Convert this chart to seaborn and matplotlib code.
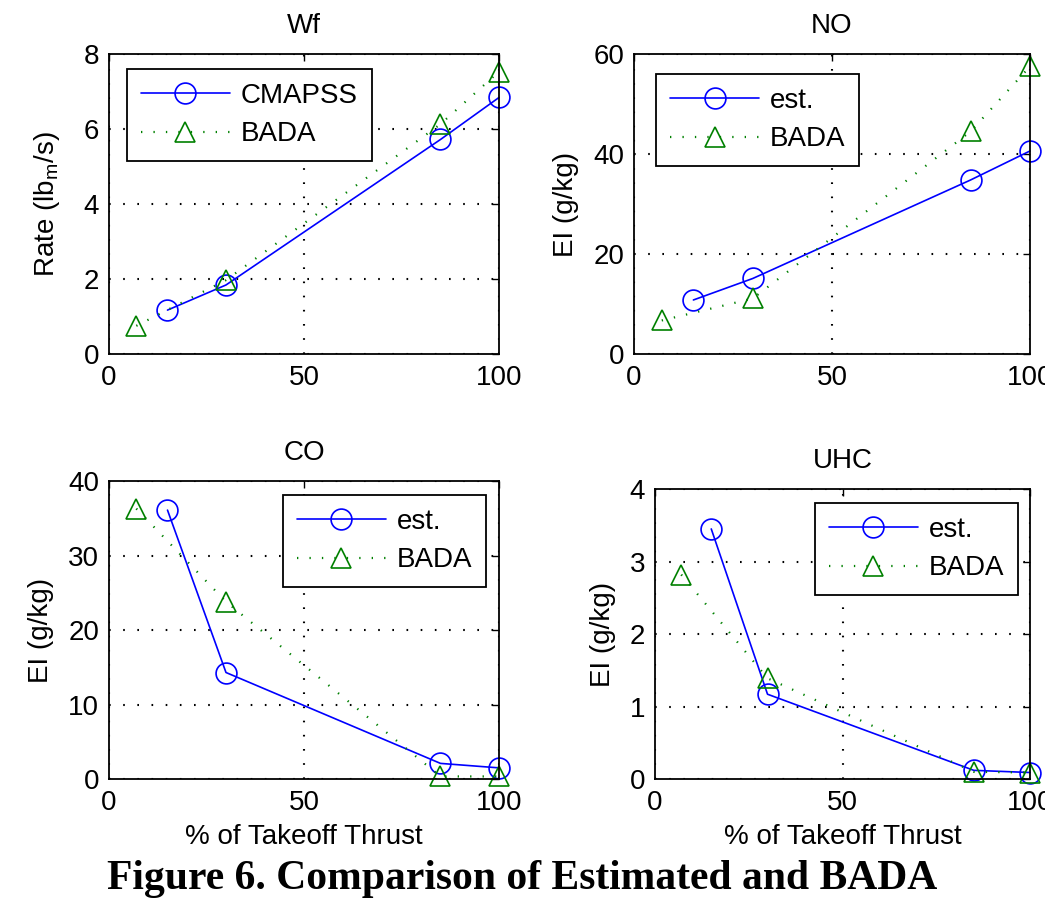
import matplotlib
matplotlib.use("Agg")
import matplotlib.pyplot as plt
import seaborn as sns

# valores
thrust_est = [15, 30, 85, 100]
thrust_bada = [7, 30, 85, 100]

wf_cmapss = [1.17, 1.84, 5.72, 6.84]
wf_bada = [0.75, 1.97, 6.13, 7.53]

no_est = [10.8, 15.1, 34.8, 40.6]
no_bada = [6.7, 11.1, 44.5, 57.5]

co_est = [36.1, 14.3, 2.1, 1.5]
co_bada = [36.3, 23.8, 0.35, 0.35]

uhc_est = [3.45, 1.17, 0.12, 0.09]
uhc_bada = [2.82, 1.39, 0.10, 0.09]

titles = ["Wf", "NO", "CO", "UHC"]
est_labels = ["CMAPSS", "est.", "est.", "est."]
ylabels = ["Rate (lb$_\\mathregular{m}$/s)", "EI (g/kg)", "EI (g/kg)", "EI (g/kg)"]
yticks = [[0, 2, 4, 6, 8], [0, 20, 40, 60], [0, 10, 20, 30, 40], [0, 1, 2, 3, 4]]
xticks = [0, 50, 100]

sns.set_theme(style="white")
plt.rcParams['font.family'] = ['Liberation Sans', 'DejaVu Sans']
plt.rcParams['mathtext.fontset'] = 'custom'
plt.rcParams['mathtext.rm'] = 'Liberation Sans'
plt.rcParams['text.color'] = 'black'
plt.rcParams['axes.labelcolor'] = 'black'

fig = plt.figure(figsize=(10.45, 9), dpi=100)

# posicoes dos eixos [left, bottom, width, height]
posicoes = [[0.1043, 0.6067, 0.3732, 0.3333],
            [0.6067, 0.6067, 0.3789, 0.3333],
            [0.1043, 0.1344, 0.3732, 0.3311],
            [0.6268, 0.1344, 0.3589, 0.3222]]
legendas = [("upper left", (0.046, 0.95)),
            ("upper left", (0.056, 0.933)),
            ("upper right", (0.967, 0.953)),
            ("upper right", (0.968, 0.952))]
ypads = [16, 10, 10, 10]

dados = [(wf_cmapss, wf_bada), (no_est, no_bada), (co_est, co_bada), (uhc_est, uhc_bada)]
verde = (0, 0.5, 0)
fs = 20

for i, (est, bada) in enumerate(dados):
    ax = fig.add_axes(posicoes[i])
    sns.lineplot(x=thrust_est, y=est, ax=ax, color='blue', marker='o', markersize=15,
                 markerfacecolor='none', markeredgecolor='blue', markeredgewidth=1.2,
                 linewidth=1.2, label=est_labels[i], clip_on=False)
    sns.lineplot(x=thrust_bada, y=bada, ax=ax, color=verde, marker='^', markersize=15,
                 markerfacecolor='none', markeredgecolor=verde, markeredgewidth=1.2,
                 linewidth=1.6, linestyle=(0, (0.6, 5)), label='BADA', clip_on=False)
    ax.set_xlim(0, 100)
    ax.set_ylim(yticks[i][0], yticks[i][-1])
    ax.set_xticks(xticks)
    ax.set_yticks(yticks[i])
    ax.grid(True, color='black', linestyle=(0, (0.8, 6)), linewidth=1.5)
    ax.tick_params(direction='in', top=True, right=True, length=5, width=1,
                   labelsize=fs, colors='black')
    ax.tick_params(axis='y', pad=7)
    ax.tick_params(axis='x', pad=8)
    for s in ax.spines.values():
        s.set_color('black')
        s.set_linewidth(1.3)
    ax.set_title(titles[i], fontsize=fs, pad=15)
    ax.set_ylabel(ylabels[i], fontsize=fs, labelpad=ypads[i])
    if i >= 2:
        ax.set_xlabel("% of Takeoff Thrust", fontsize=fs, labelpad=6)
    loc, anchor = legendas[i]
    ax.legend(loc=loc, bbox_to_anchor=anchor, borderaxespad=0, fontsize=fs,
              fancybox=False, edgecolor='black', framealpha=1, handlelength=3.2,
              labelspacing=0.45, borderpad=0.5, handletextpad=0.4)
    ax.get_legend().get_frame().set_linewidth(1.3)

fig.text(0.50, 0.012, "Figure 6. Comparison of Estimated and BADA", ha='center', va='baseline',
         fontsize=30, fontweight='bold', family=['Liberation Serif', 'DejaVu Serif'])

fig.savefig("out.png", dpi=100, facecolor='white')
